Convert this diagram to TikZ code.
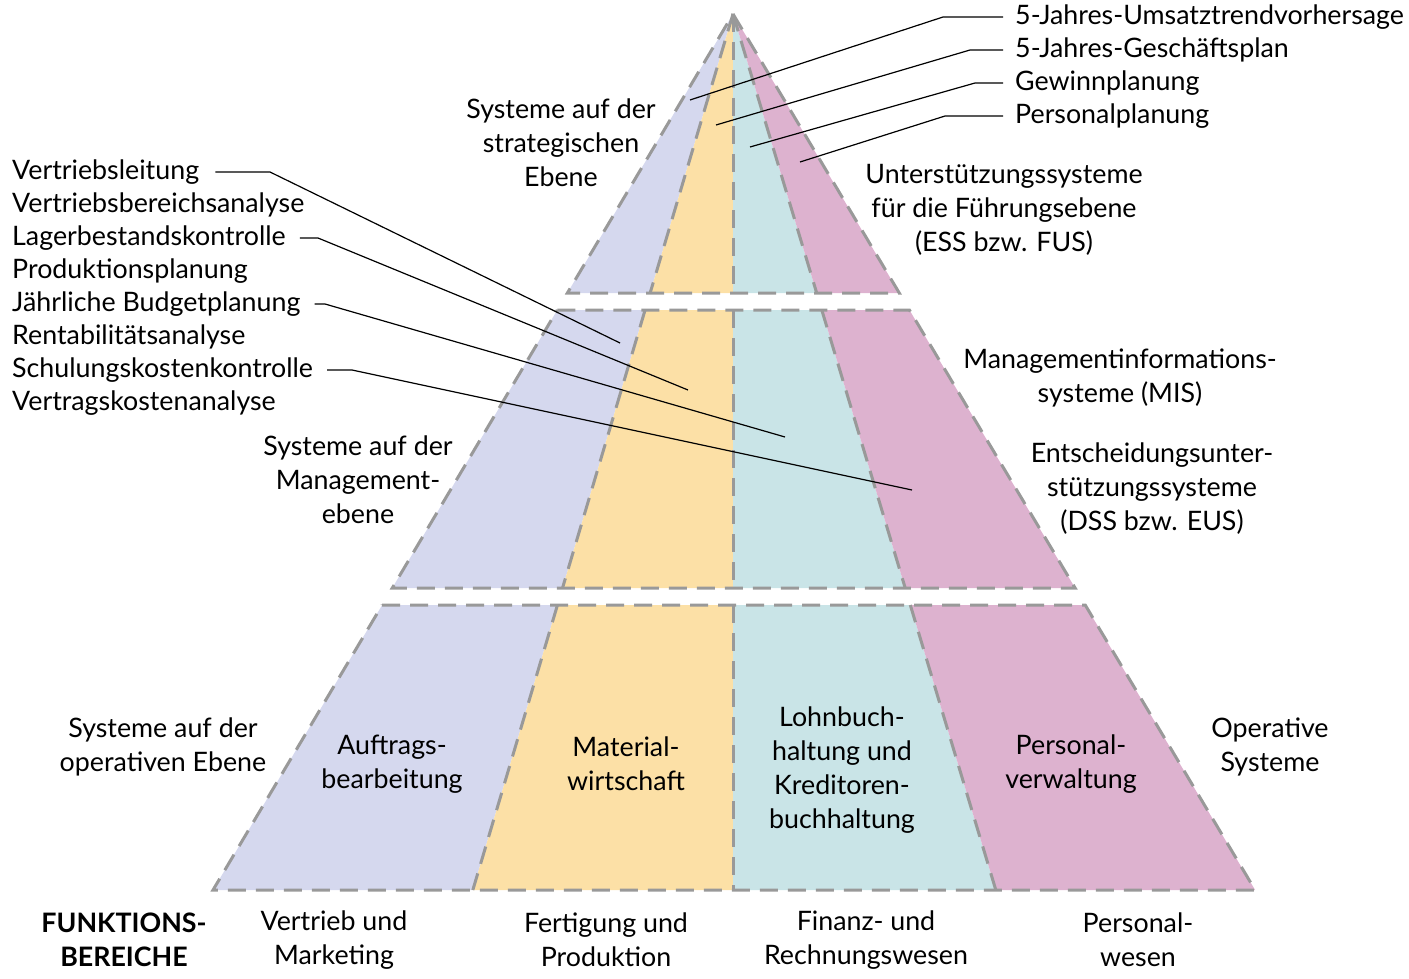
\documentclass[tikz,border=0pt]{standalone}
\usepackage{fontspec}
\setmainfont{Lato}
\begin{document}
\begin{tikzpicture}[x=1pt,y=-1pt,
  lbl/.style={font=\fontsize{26.8}{34}\selectfont,align=center,inner sep=0pt},
  li/.style={font=\fontsize{26.8}{34}\selectfont,anchor=west,inner sep=0pt},
  bord/.style={draw=black!40,line width=3pt,dash pattern=on 18pt off 10pt},
  lead/.style={draw=black,line width=1.2pt}]
\useasboundingbox (0,0) rectangle (1409,979);
\definecolor{cb}{HTML}{D5D8EE}\definecolor{co}{HTML}{FCE0A6}
\definecolor{ct}{HTML}{C9E4E7}\definecolor{cp}{HTML}{DDB2CF}
\def\L#1{(733-0.5936*(#1-14))}
\def\R#1{(733+0.596*(#1-14))}
\def\IL#1{(733-0.297*(#1-14))}
\def\IR#1{(733+0.3*(#1-14))}
\foreach \a/\b in {14/293,310/588,605/890}{
  \fill[cb] ({\L{\a}},\a) -- ({\IL{\a}},\a) -- ({\IL{\b}},\b) -- ({\L{\b}},\b) -- cycle;
  \fill[co] ({\IL{\a}},\a) -- (733,\a) -- (733,\b) -- ({\IL{\b}},\b) -- cycle;
  \fill[ct] (733,\a) -- ({\IR{\a}},\a) -- ({\IR{\b}},\b) -- (733,\b) -- cycle;
  \fill[cp] ({\IR{\a}},\a) -- ({\R{\a}},\a) -- ({\R{\b}},\b) -- ({\IR{\b}},\b) -- cycle;
  \draw[bord] ({\L{\a}},\a) -- ({\R{\a}},\a) -- ({\R{\b}},\b) -- ({\L{\b}},\b) -- cycle;
  \draw[bord] ({\IL{\a}},\a) -- ({\IL{\b}},\b);
  \draw[bord] (733,\a) -- (733,\b);
  \draw[bord] ({\IR{\a}},\a) -- ({\IR{\b}},\b);
}
\node[lbl] (s1) at (561,143) {Systeme auf der\\strategischen\\Ebene};
\node[lbl] (ess) at (1004,210) {Unterstützungssysteme\\für die Führungsebene\\(ESS bzw. FUS)};
\node[lbl] (mis) at (1120,378) {Managementinformations-\\systeme (MIS)};
\node[lbl] (dss) at (1152,489) {Entscheidungsunter-\\stützungssysteme\\(DSS bzw. EUS)};
\node[lbl] (s2) at (358,480) {Systeme auf der\\Management-\\ebene};
\node[lbl] (s3) at (163,747) {Systeme auf der\\operativen Ebene};
\node[lbl] (b1) at (392,764) {Auftrags-\\bearbeitung};
\node[lbl] (b2) at (626,764) {Material-\\wirtschaft};
\node[lbl] (b3) at (842,770) {Lohnbuch-\\haltung und\\Kreditoren-\\buchhaltung};
\node[lbl] (b4) at (1071,764) {Personal-\\verwaltung};
\node[lbl] (op) at (1270,747) {Operative\\Systeme};
\node[lbl,font=\fontsize{26.8}{34}\selectfont\bfseries] (fb) at (124,940) {FUNKTIONS-\\BEREICHE};
\node[lbl] (f1) at (334,940) {Vertrieb und\\Marketing};
\node[lbl] (f2) at (606,940) {Fertigung und\\Produktion};
\node[lbl] (f3) at (866,940) {Finanz- und\\Rechnungswesen};
\node[lbl] (f4) at (1138,940) {Personal-\\wesen};
\foreach \t [count=\i] in {Vertriebsleitung,Vertriebsbereichsanalyse,Lagerbestandskontrolle,Produktionsplanung,Jährliche Budgetplanung,Rentabilitätsanalyse,Schulungskostenkontrolle,Vertragskostenanalyse}
  \node[li] (l\i) at (12,{172+33*(\i-1)}) {\t};
\foreach \t [count=\i] in {5-Jahres-Umsatztrendvorhersage,5-Jahres-Geschäftsplan,Gewinnplanung,Personalplanung}
  \node[li] (r\i) at (1015,{17+33*(\i-1)}) {\t};
\coordinate (e1) at (620,343); \coordinate (e3) at (688,390);
\coordinate (e5) at (785,437); \coordinate (e7) at (912,490);
\draw[lead] ([xshift=16pt]l1.east) -- (270,172) -- (e1);
\draw[lead] ([xshift=14pt]l3.east) -- (318,238) -- (e3);
\draw[lead] ([xshift=14pt]l5.east) -- (325,304) -- (e5);
\draw[lead] ([xshift=14pt]l7.east) -- (352,370) -- (e7);
\coordinate (g1) at (690,100); \coordinate (g2) at (716,125);
\coordinate (g3) at (750,147); \coordinate (g4) at (800,162);
\draw[lead] ([xshift=-12pt]r1.west) -- (943,17) -- (g1);
\draw[lead] ([xshift=-12pt]r2.west) -- (970,50) -- (g2);
\draw[lead] ([xshift=-12pt]r3.west) -- (975,83) -- (g3);
\draw[lead] ([xshift=-12pt]r4.west) -- (945,116) -- (g4);
\end{tikzpicture}
\end{document}
